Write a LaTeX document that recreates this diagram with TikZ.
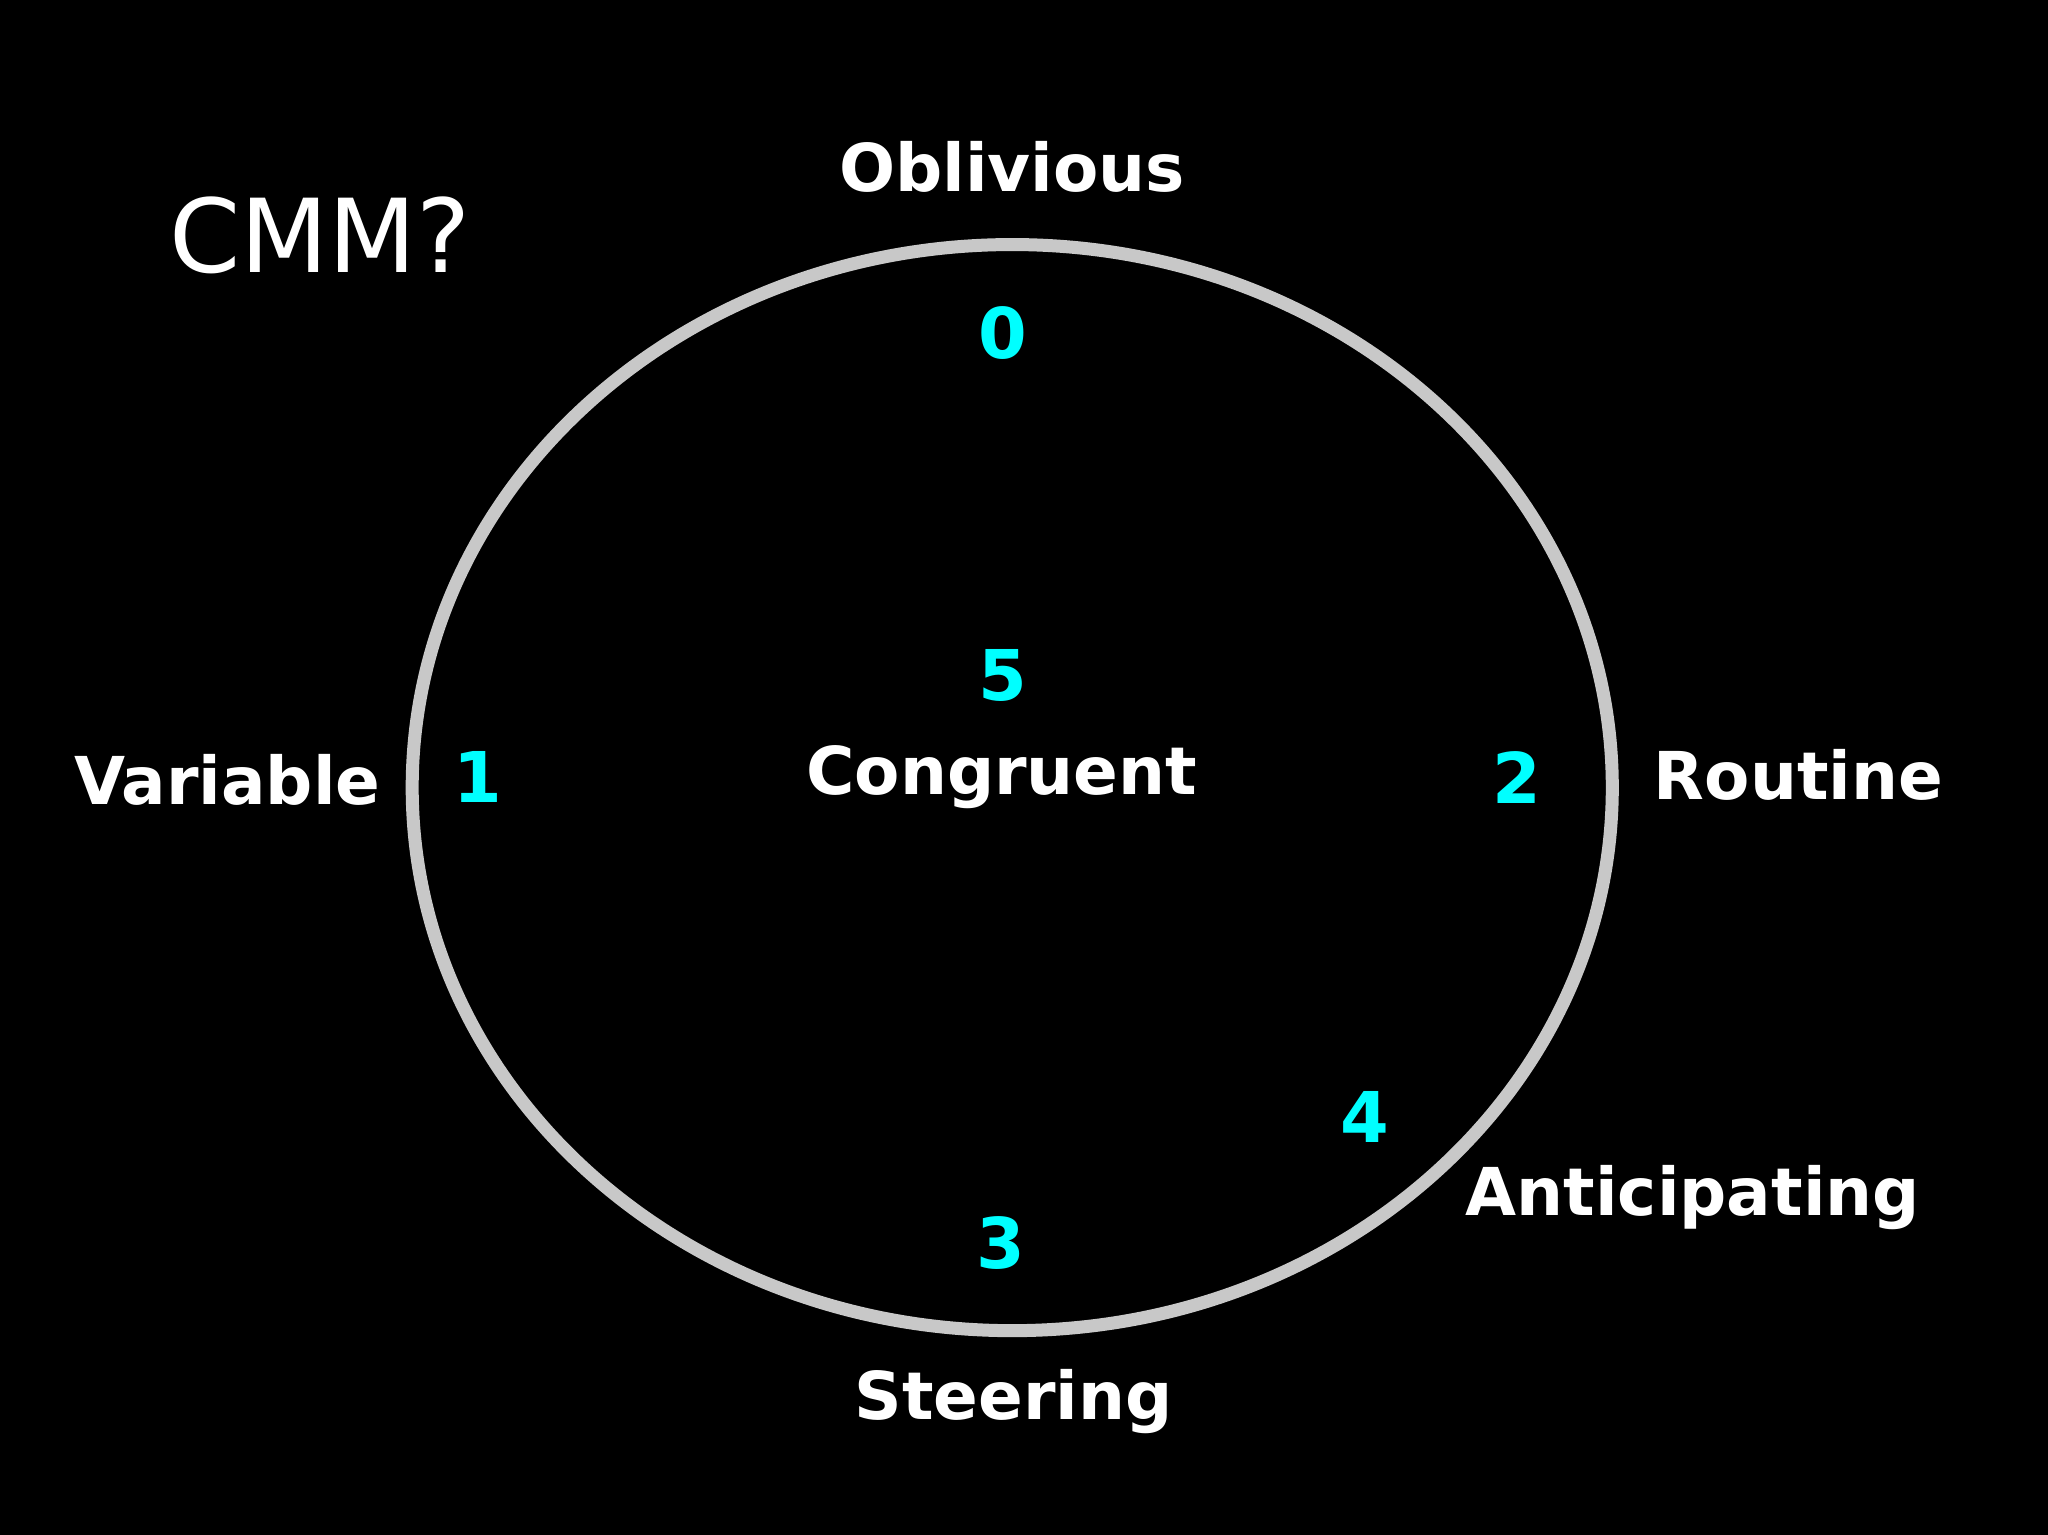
\documentclass[tikz,border=0pt]{standalone}
\usepackage{fontspec}
\setmainfont{DejaVu Sans}
\usetikzlibrary{shapes.geometric}
\definecolor{numcyan}{RGB}{0,255,255}
\definecolor{ringgray}{RGB}{200,200,200}
\begin{document}
\begin{tikzpicture}[x=0.653pt,y=-0.653pt,
  lbl/.style={text=white,font=\fontsize{33}{36}\selectfont\bfseries,inner sep=0},
  num/.style={text=numcyan,font=\fontsize{35}{38}\selectfont\bfseries,inner sep=0}]
\fill[black] (0,0) rectangle (1568,1175);
\useasboundingbox (0,0) rectangle (1568,1175);
\node[draw=ringgray,line width=6.5pt,ellipse,minimum width=600pt,minimum height=543pt,inner sep=0] (ring) at (775,603) {};
\node[text=white,font=\fontsize{51}{54}\selectfont,inner sep=0] (title) at (245,180) {CMM?};
\node[lbl] (obl) at (775,128) {Oblivious};
\node[num] (n0) at (768,255) {0};
\node[num] (n5) at (768,517) {5};
\node[lbl] (con) at (767,595) {Congruent};
\node[num] (n1) at (366,595) {1};
\node[lbl] (var) at (174,597) {Variable};
\node[num] (n2) at (1161,595) {2};
\node[lbl] (rou) at (1377,593) {Routine};
\node[num] (n4) at (1045,855) {4};
\node[lbl] (ant) at (1296,917) {Anticipating};
\node[num] (n3) at (766,952) {3};
\node[lbl] (ste) at (776,1073) {Steering};
\end{tikzpicture}
\end{document}
